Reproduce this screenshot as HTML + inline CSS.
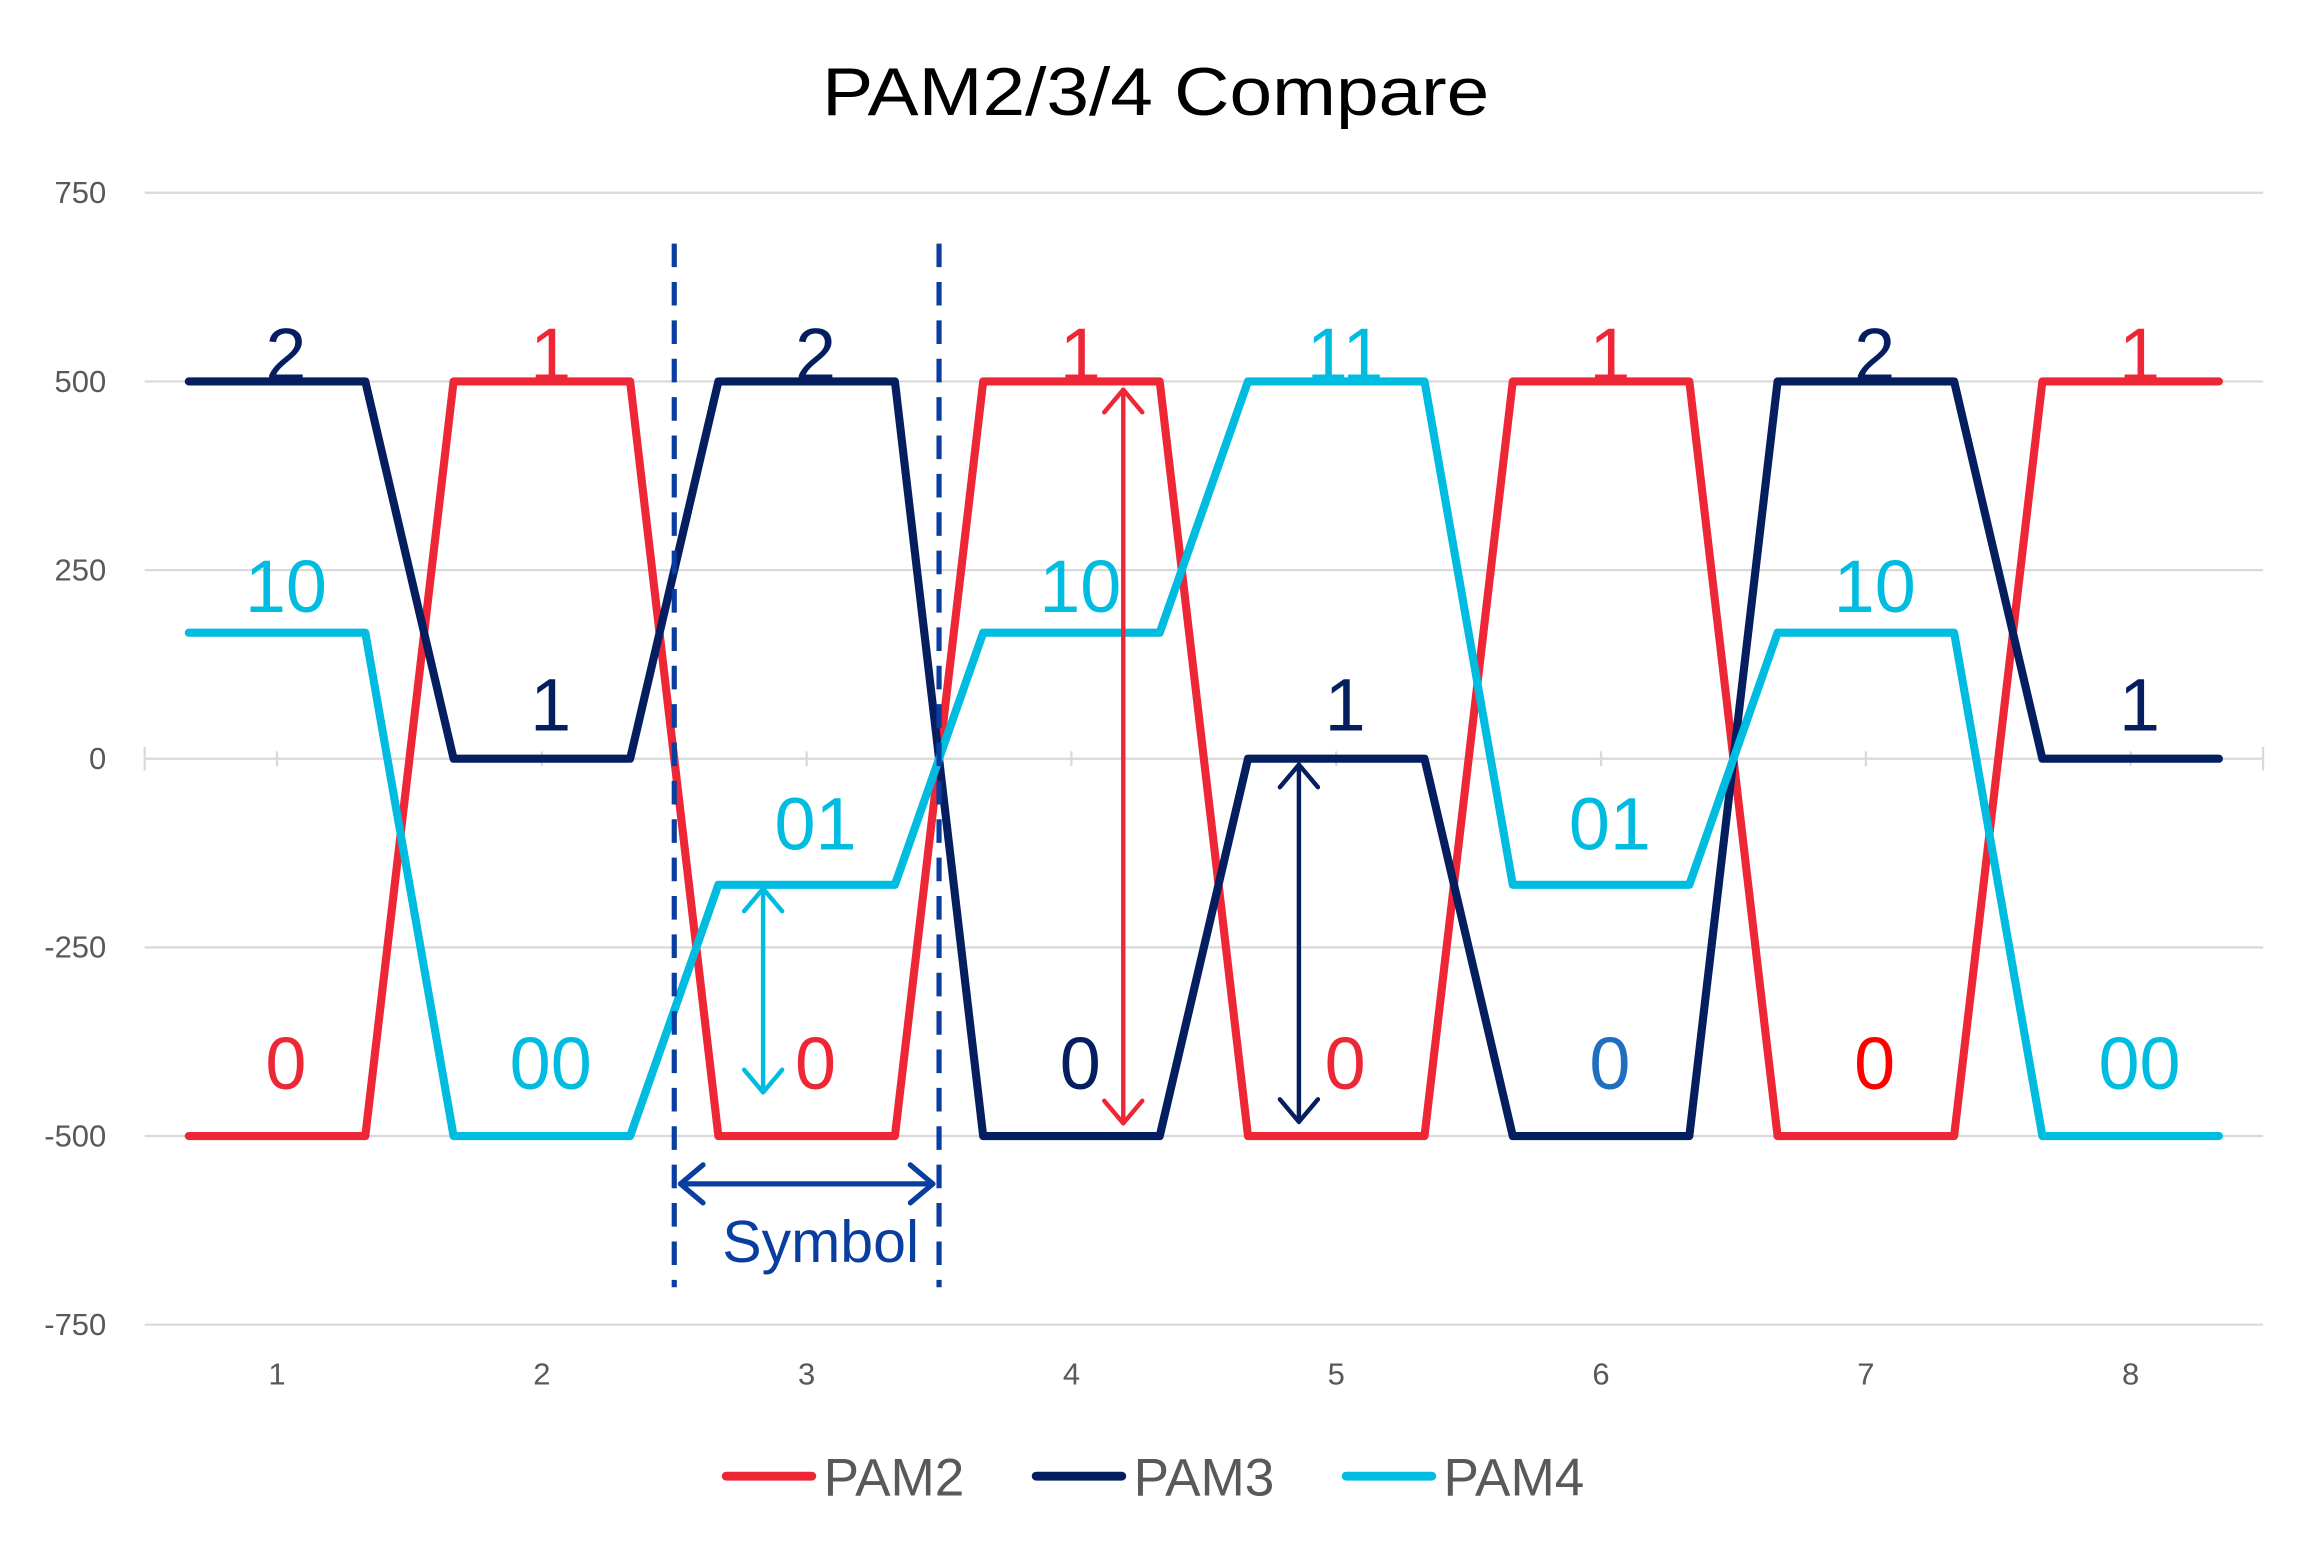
<!DOCTYPE html>
<html><head><meta charset="utf-8"><style>
html,body{margin:0;padding:0;background:#fff;}
svg{display:block;}
text{font-family:"Liberation Sans",sans-serif;}
</style></head><body>
<svg id="chart" width="2297" height="1547" viewBox="0 0 1556.2 1048" preserveAspectRatio="none" xmlns="http://www.w3.org/2000/svg">
<rect width="1556.2" height="1048" fill="#fff"/>
<text x="783" y="78" font-size="46" text-anchor="middle" textLength="452" lengthAdjust="spacingAndGlyphs" fill="#000">PAM2/3/4 Compare</text>
<g id="grid"></g><g id="axes"></g><g id="series"></g><g id="labels"></g><g id="annot"></g><g id="legend"></g>
</svg>
<script>
const categories=[1,2,3,4,5,6,7,8];
const yTicks=[750,500,250,0,-250,-500,-750];
const pam2=[-500,500,-500,500,-500,500,-500,500];
const pam3=[500,0,500,-500,0,-500,500,0];
const pam4=[167,-500,-167,167,500,-167,167,-500];
const pam2Labels=["0","1","0","1","0","1","0","1"];
const pam3Labels=["2","1","2","0","1","0","2","1"];
const pam4Labels=["10","00","01","10","11","01","10","00"];
const seriesNames=["PAM2","PAM3","PAM4"];
const colors={PAM2:"#EE2737",PAM3:"#041E60",PAM4:"#00BCE0"};
const NS="http://www.w3.org/2000/svg";
const X0=98,BW=179.4,Y0=514,PX=127.8/250;
function xScale(c){return X0+(c-0.5)*BW;}
function yScale(v){return Y0-v*PX;}
function mk(tag,attrs,parent){const e=document.createElementNS(NS,tag);for(const k in attrs)e.setAttribute(k,attrs[k]);parent.appendChild(e);return e;}
const grid=document.getElementById('grid'),axes=document.getElementById('axes'),series=document.getElementById('series'),labels=document.getElementById('labels'),annot=document.getElementById('annot'),legend=document.getElementById('legend');
yTicks.forEach(v=>{
  if(v!==0){const l=mk('line',{x1:X0,x2:X0+8*BW,y1:yScale(v),y2:yScale(v),stroke:"#D9D9D9","stroke-width":1.5},grid);
  
  }
  const t=mk('text',{x:72,y:yScale(v)+7,"font-size":21,"text-anchor":"end",fill:"#595959"},axes);
  t.textContent=v;
  
  
});
const ax=mk('line',{x1:X0,x2:X0+8*BW,y1:Y0,y2:Y0,stroke:"#D9D9D9","stroke-width":1.5},axes);


mk('line',{x1:X0,x2:X0,y1:506,y2:522,stroke:"#D9D9D9","stroke-width":1.5},axes);
mk('line',{x1:X0+8*BW,x2:X0+8*BW,y1:506,y2:522,stroke:"#D9D9D9","stroke-width":1.5},axes);
categories.forEach(c=>{
  mk('line',{x1:xScale(c),x2:xScale(c),y1:509,y2:519,stroke:"#D9D9D9","stroke-width":1.5},axes);
  const t=mk('text',{x:xScale(c),y:938,"font-size":21,"text-anchor":"middle",fill:"#595959"},axes);
  t.textContent=c;
  
  
});
function drawSeries(vals,name){
  const pts=[];vals.forEach((v,i)=>{const c=categories[i];pts.push([xScale(c-1/3),yScale(v)]);pts.push([xScale(c+1/3),yScale(v)]);});
  const p=mk('polyline',{points:pts.map(p=>p.join(',')).join(' '),fill:"none",stroke:colors[name],"stroke-width":5.5,"stroke-linejoin":"round","stroke-linecap":"round"},series);
  
  
}
drawSeries(pam2,"PAM2");drawSeries(pam3,"PAM3");drawSeries(pam4,"PAM4");
function off(v){if(v>=500)return 1;if(v>100)return 14;if(v>=0)return 19;if(v>-300)return 24;return 32;}
function drawLabels(vals,texts,name,special){
  vals.forEach((v,i)=>{
    const c=categories[i];
    const t=mk('text',{x:xScale(c)+6,y:yScale(v)-off(v),"font-size":50,"text-anchor":"middle",fill:(special&&special[i])||colors[name]},labels);
    t.textContent=texts[i];
    
    
  });
}
drawLabels(pam2,pam2Labels,"PAM2",{6:"#FF0000"});
drawLabels(pam3,pam3Labels,"PAM3",{5:"#1F6FC0"});
drawLabels(pam4,pam4Labels,"PAM4");
function dbl(x1,y1,x2,y2,col,w,h,name){
  const g=mk('g',{stroke:col,"stroke-width":w,fill:"none","stroke-linecap":"round","stroke-linejoin":"round"},annot);
  
  
  mk('line',{x1,y1,x2,y2},g);
  const a=Math.atan2(y2-y1,x2-x1);
  [[x1,y1,a+Math.PI],[x2,y2,a]].forEach(([x,y,b])=>{
    mk('polyline',{points:`${x-h*Math.cos(b-0.7)},${y-h*Math.sin(b-0.7)} ${x},${y} ${x-h*Math.cos(b+0.7)},${y-h*Math.sin(b+0.7)}`},g);
  });
}
[2.5,3.5].forEach(c=>{
  const l=mk('line',{x1:xScale(c),x2:xScale(c),y1:165,y2:872,stroke:"#0A3DA0","stroke-width":3.5,"stroke-dasharray":"16 10"},annot);
  
  
});
dbl(461,802,632,802,"#0A3DA0",3.5,20,"symbol-width-arrow");
const st=mk('text',{x:556,y:855,"font-size":40,"text-anchor":"middle",fill:"#0A3DA0"},annot);
st.textContent="Symbol";


dbl(517,602,517,740,"#00BCE0",3,20,"pam4-step-arrow");
dbl(761,264,761,761,"#EE2737",3,20,"pam2-swing-arrow");
dbl(880,518,880,760,"#041E60",3,20,"pam3-step-arrow");
const lx=[492,702,912];
seriesNames.forEach((n,i)=>{
  const g=mk('g',{},legend);
  
  
  mk('line',{x1:lx[i],x2:lx[i]+58,y1:1000,y2:1000,stroke:colors[n],"stroke-width":6,"stroke-linecap":"round"},g);
  const t=mk('text',{x:lx[i]+66,y:1013,"font-size":36,fill:"#595959"},g);
  t.textContent=n;
});
</script>
</body></html>
